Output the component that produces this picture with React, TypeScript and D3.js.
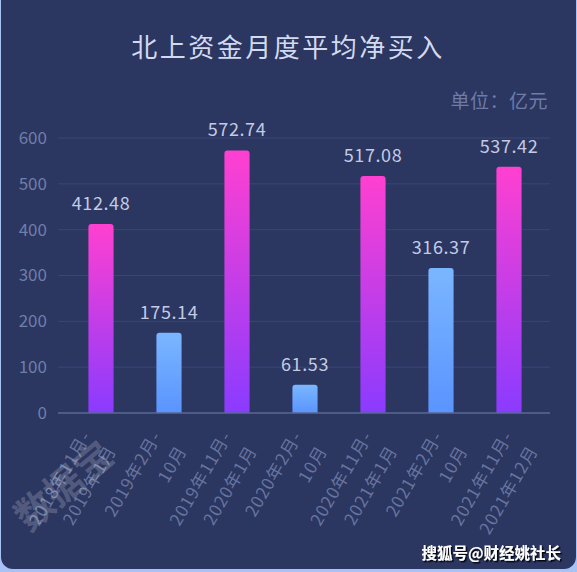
import React from "react";
import * as d3 from "d3";

const categories = [
  ["2018年11月-", "2019年1月"],
  ["2019年2月-", "10月"],
  ["2019年11月-", "2020年1月"],
  ["2020年2月-", "10月"],
  ["2020年11月-", "2021年1月"],
  ["2021年2月-", "10月"],
  ["2021年11月-", "2021年12月"],
];
const values = [412.48, 175.14, 572.74, 61.53, 517.08, 316.37, 537.42];
const barKind = ["pink", "blue", "pink", "blue", "pink", "blue", "pink"];
const yTicks = [0, 100, 200, 300, 400, 500, 600];

const W = 577;
const H = 572;
const FONT = "'Noto Sans CJK SC', 'Noto Sans', sans-serif";

const styles = {
  wrap: { position: "absolute" as const, left: 0, top: 0 },
};

function topRounded(x: number, y: number, w: number, h: number, r: number) {
  const rr = Math.min(r, h, w / 2);
  return `M${x},${y + h}V${y + rr}Q${x},${y} ${x + rr},${y}H${x + w - rr}Q${x + w},${y} ${x + w},${y + rr}V${y + h}Z`;
}

export default function App() {
  const keys = categories.map((c) => c.join(""));
  const x = d3.scaleBand().domain(keys).range([67, 543]).paddingInner(0.63).paddingOuter(0.315);
  const xLabel = d3.scaleBand().domain(keys).range([64, 556]);
  const y = d3.scaleLinear().domain([0, 600]).range([413, 138]);
  const gridX0 = 58;
  const gridX1 = 550;

  return (
    <div style={styles.wrap}>
      <svg width={W} height={H} style={{ display: "block" }}>
        <defs>
          <linearGradient id="g-pink" x1="0" y1="0" x2="0" y2="1">
            <stop offset="0%" stopColor="#ff40d0" />
            <stop offset="100%" stopColor="#8a3bff" />
          </linearGradient>
          <linearGradient id="g-blue" x1="0" y1="0" x2="0" y2="1">
            <stop offset="0%" stopColor="#7ab6ff" />
            <stop offset="100%" stopColor="#5a94ff" />
          </linearGradient>
          <filter id="shadow" x="-10%" y="-30%" width="130%" height="160%">
            <feDropShadow dx="1.5" dy="1.5" stdDeviation="0.3" floodColor="#000" floodOpacity="0.9" />
          </filter>
        </defs>
        <rect x={0} y={0} width={W} height={H} fill="#a9c2f5" />
        <rect x={1} y={-12} width={W - 2} height={H - 1 + 10} rx={12} fill="#2b3661" />

        <text x={288} y={57} textAnchor="middle" fontFamily={FONT} fontSize={26} letterSpacing={2.5} fill="#d3daf0">
          北上资金月度平均净买入
        </text>
        <text x={548} y={108} textAnchor="end" fontFamily={FONT} fontSize={19} letterSpacing={0.5} fill="#6e7ca8">
          单位：亿元
        </text>

        {yTicks.map((t) => (
          <g key={t}>
            {t > 0 && <line x1={gridX0} x2={gridX1} y1={y(t)} y2={y(t)} stroke="#3a4676" strokeWidth={1} />}
            <text x={47} y={y(t)} dy="0.35em" textAnchor="end" fontFamily={FONT} fontSize={17} fill="#6f7ea9">
              {t}
            </text>
          </g>
        ))}

        {values.map((v, i) => {
          const bx = x(keys[i]) as number;
          const bw = x.bandwidth();
          const top = y(v);
          return (
            <g key={keys[i]}>
              <path d={topRounded(bx, top, bw, y(0) - top, 3)} fill={`url(#g-${barKind[i]})`} />
              <text x={bx + bw / 2} y={top - 14} textAnchor="middle" fontFamily={FONT} fontSize={18} letterSpacing={0.6} fill="#c3cbe4">
                {v.toFixed(2)}
              </text>
            </g>
          );
        })}

        <line x1={gridX0} x2={gridX1} y1={y(0)} y2={y(0)} stroke="#5a6894" strokeWidth={1.5} />

        {categories.map((lines, i) => {
          const cx = (xLabel(keys[i]) as number) + xLabel.bandwidth() / 2;
          return (
            <g key={keys[i]} transform={`translate(${cx},440) rotate(-60)`}>
              {lines.map((ln, j) => (
                <text
                  key={j}
                  x={0}
                  y={(j - (lines.length - 1) / 2) * 29}
                  dy="0.35em"
                  textAnchor="end"
                  fontFamily={FONT}
                  fontSize={17}
                  letterSpacing={1}
                  fill="#66749e"
                >
                  {ln}
                </text>
              ))}
            </g>
          );
        })}

        <text
          transform="translate(64,486) rotate(-40)"
          textAnchor="middle"
          dy="0.35em"
          fontFamily={FONT}
          fontSize={38}
          fontWeight="bold"
          fill="#ffffff"
          fillOpacity={0.2}
        >
          数据宝
        </text>

        <text x={561} y={559} textAnchor="end" fontFamily={FONT} fontSize={15.5} fontWeight="bold" fill="#ffffff" filter="url(#shadow)">
          搜狐号@财经姚社长
        </text>
      </svg>
    </div>
  );
}
